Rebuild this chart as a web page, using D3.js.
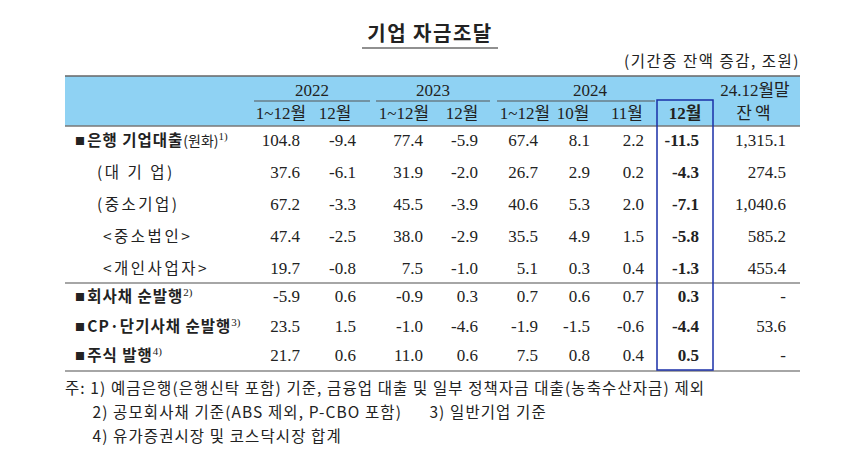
<!DOCTYPE html>
<html><head><meta charset="utf-8">
<script src="https://cdn.jsdelivr.net/npm/d3@7"></script>
<style>
body{margin:0;background:#fff}
text{font-family:"Liberation Serif","Noto Sans CJK KR",serif;font-size:17px;fill:#222}
.kr{font-family:"Noto Sans CJK KR",sans-serif}
</style></head>
<body><div id="chart"></div>
<script>
const years = ["2022", "2023", "2024"]
const subHeads = ["1~12월", "12월", "1~12월", "12월", "1~12월", "10월", "11월", "12월"]
const rowLabels = ["은행 기업대출", "(대 기 업)", "(중소기업)", "<중소법인>", "<개인사업자>", "회사채 순발행", "CP·단기사채 순발행", "주식  발행"]
const bulletRows = [true, false, false, false, false, true, true, true]
const labelNotes = ["1)", "", "", "", "", "2)", "3)", "4)"]
const values = [
  ["104.8", "-9.4", "77.4", "-5.9", "67.4", "8.1", "2.2", "-11.5", "1,315.1"],
  ["37.6", "-6.1", "31.9", "-2.0", "26.7", "2.9", "0.2", "-4.3", "274.5"],
  ["67.2", "-3.3", "45.5", "-3.9", "40.6", "5.3", "2.0", "-7.1", "1,040.6"],
  ["47.4", "-2.5", "38.0", "-2.9", "35.5", "4.9", "1.5", "-5.8", "585.2"],
  ["19.7", "-0.8", "7.5", "-1.0", "5.1", "0.3", "0.4", "-1.3", "455.4"],
  ["-5.9", "0.6", "-0.9", "0.3", "0.7", "0.6", "0.7", "0.3", "-"],
  ["23.5", "1.5", "-1.0", "-4.6", "-1.9", "-1.5", "-0.6", "-4.4", "53.6"],
  ["21.7", "0.6", "11.0", "0.6", "7.5", "0.8", "0.4", "0.5", "-"],
]
const notes = [
  "주: 1) 예금은행(은행신탁 포함) 기준, 금융업 대출 및 일부 정책자금 대출(농축수산자금) 제외",
  "      2) 공모회사채 기준(ABS 제외, P-CBO 포함)      3) 일반기업 기준",
  "      4) 유가증권시장 및 코스닥시장 합계",
]

// layout
const W = 860, H = 459, left = 65, right = 800
const colRight = [300, 356, 423, 478, 538, 590, 644, 699, 786]
const subCenter = [281, 335, 404, 462, 525, 573, 627, 685]
const yearSpan = [[254, 370], [376, 490], [497, 655]]
const rowY = d3.scalePoint().domain(d3.range(5)).range([141, 269])
const rowY2 = d3.scalePoint().domain(d3.range(3)).range([297, 356])
const yOf = i => (i < 5 ? rowY(i) : rowY2(i - 5))
const labelX = [75, 97, 97, 103, 103, 75, 75, 75]

const svg = d3.select("#chart").append("svg").attr("width", W).attr("height", H)

svg.append("text").attr("x", 430).attr("y", 41).attr("text-anchor", "middle")
  .attr("class", "kr").style("font-size", "20px").style("font-weight", "bold").style("letter-spacing", "1.5px").text("기업 자금조달")
svg.append("line").attr("x1", 362).attr("x2", 498).attr("y1", 48).attr("y2", 48).attr("stroke", "#222").attr("stroke-width", 1.2)
svg.append("text").attr("x", right).attr("y", 67).attr("text-anchor", "end").attr("class", "kr")
  .style("font-size", "15.5px").style("letter-spacing", "1.5px").text("(기간중 잔액 증감, 조원)")

svg.append("rect").attr("x", left).attr("y", 76).attr("width", right - left).attr("height", 50).attr("fill", "#8fd2f3")
;[[76, "#666"], [126, "#777"], [283, "#888"], [371, "#888"]].forEach(([y, c]) =>
  svg.append("line").attr("x1", left).attr("x2", right).attr("y1", y).attr("y2", y).attr("stroke", c).attr("stroke-width", 1.5))

years.forEach((y, i) => {
  const [a, b] = yearSpan[i]
  svg.append("text").attr("x", i === 2 ? 590 : (a + b) / 2).attr("y", 96).attr("text-anchor", "middle").text(y)
  svg.append("line").attr("x1", a).attr("x2", b).attr("y1", 101).attr("y2", 101).attr("stroke", "#555")
})
svg.append("text").attr("x", 755).attr("y", 96).attr("text-anchor", "middle").text("24.12월말")
svg.append("text").attr("x", 755).attr("y", 119).attr("text-anchor", "middle").style("letter-spacing", "3px").text("잔액")
subHeads.forEach((s, i) => {
  svg.append("text").attr("x", subCenter[i]).attr("y", 119).attr("text-anchor", "middle")
    .style("font-weight", i === 7 ? "bold" : null).text(s)
})

rowLabels.forEach((l, i) => {
  const t = svg.append("text").attr("x", labelX[i]).attr("y", yOf(i) + 5)
  const bullet = bulletRows[i]
  if (bullet) t.append("tspan").attr("class", "kr").style("font-size", "10px").attr("dy", -1).text("■ ")
  t.append("tspan").attr("class", "kr").attr("dy", bullet ? 1 : 0).style("font-weight", bullet ? "bold" : null)
    .style("font-size", "15.5px").style("letter-spacing", bullet ? "1px" : "2.5px").text(l)
  if (i === 0) t.append("tspan").attr("class", "kr").style("font-size", "14px").text("(원화)")
  const n = labelNotes[i]
  if (n) t.append("tspan").attr("dy", -6).style("font-size", "11px").text(n)
})

values.forEach((row, i) => {
  svg.append("g").selectAll("text").data(row).join("text")
    .attr("x", (d, j) => colRight[j]).attr("y", yOf(i) + 5).attr("text-anchor", "end")
    .style("font-weight", (d, j) => (j === 7 ? "bold" : null)).text(d => d)
})

svg.append("rect").attr("x", 657).attr("y", 100).attr("width", 56).attr("height", 270)
  .attr("fill", "none").attr("stroke", "#1a2fa8").attr("stroke-width", 1.5)

notes.forEach((n, i) => {
  svg.append("text").attr("x", 65).attr("y", 394 + i * 24).attr("class", "kr").style("font-size", "15.5px")
    .style("letter-spacing", "1.1px").style("white-space", "pre").text(n)
})
</script></body></html>
